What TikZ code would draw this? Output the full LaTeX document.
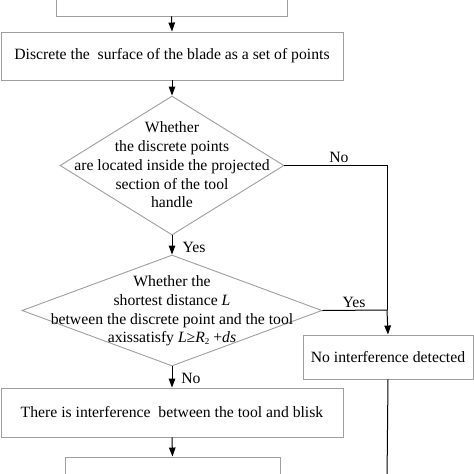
\documentclass[tikz,border=0pt]{standalone}
\usepackage{fontspec}
\setmainfont{Liberation Serif}
\usetikzlibrary{shapes.geometric,arrows.meta}
\begin{document}
\begin{tikzpicture}[x=1pt,y=-1pt,
  box/.style={draw=black!38, line width=0.9pt, inner sep=0pt},
  dia/.style={diamond, draw=black!38, line width=0.9pt, inner sep=0pt},
  txt/.style={align=center, inner sep=0pt, font=\fontsize{15.7}{18.7}\selectfont},
  lbl/.style={inner sep=0pt, font=\fontsize{15.7}{18.7}\selectfont},
  arr/.style={-{Triangle[length=9pt,width=6.5pt]}, line width=1pt},
  ln/.style={line width=1pt}]
\useasboundingbox (0,0) rectangle (474,474);
\clip (0,0) rectangle (474,474);
% boxes
\node[box, minimum width=231pt, minimum height=56pt] (b1) at (171.5,-12) {};
\node[box, minimum width=342pt, minimum height=48pt] (b2) at (172,56) {};
\node[txt] (t2) at (b2.center) {Discrete the \ surface of the blade as a set of points};
\node[dia, minimum width=224pt, minimum height=139pt] (d1) at (172,165.5) {};
\node[txt] (t1) at (172,165) {Whether\\the discrete points\\are located inside the projected\\section of the tool\\handle};
\node[dia, minimum width=300pt, minimum height=111pt] (d2) at (172,310.5) {};
\node[txt] (t3) at (172,311) {Whether the\\shortest distance \textit{L}\\between the discrete point and the tool\\axissatisfy \textit{L}≥\textit{R}\raisebox{-0.2ex}{\fontsize{9}{9}\selectfont 2} +\textit{ds}};
\node[box, minimum width=170pt, minimum height=44pt] (b3) at (388,357) {};
\node[txt] (t4) at (b3.center) {No interference detected};
\node[box, minimum width=342pt, minimum height=49pt] (b4) at (172,412.5) {};
\node[txt] (t5) at (b4.center) {There is interference \ between the tool and blisk};
\node[box, minimum width=215pt, minimum height=60pt] (b5) at (172.5,487) {};
% connectors
\coordinate (j) at (387,310);
\coordinate (e) at (387,480);
\draw[arr] (b1.south) -- (b2.north);
\draw[arr] (b2.south) -- (d1.north);
\draw[arr] (d1.south) -- (d2.north);
\draw[arr] (d2.south) -- (b4.north);
\draw[arr] (b4.south) -- (b5.north);
\draw[ln] (d1.east) -| (j);
\draw[ln] (d2.east) -- (j);
\draw[arr] (j) -- (b3.north);
\draw[ln] (b3.south) -- (e);
% labels
\node[lbl] (l1) at (339,157) {No};
\node[lbl] (l2) at (194,247) {Yes};
\node[lbl] (l3) at (354,302) {Yes};
\node[lbl] (l4) at (191,378) {No};
\end{tikzpicture}
\end{document}
